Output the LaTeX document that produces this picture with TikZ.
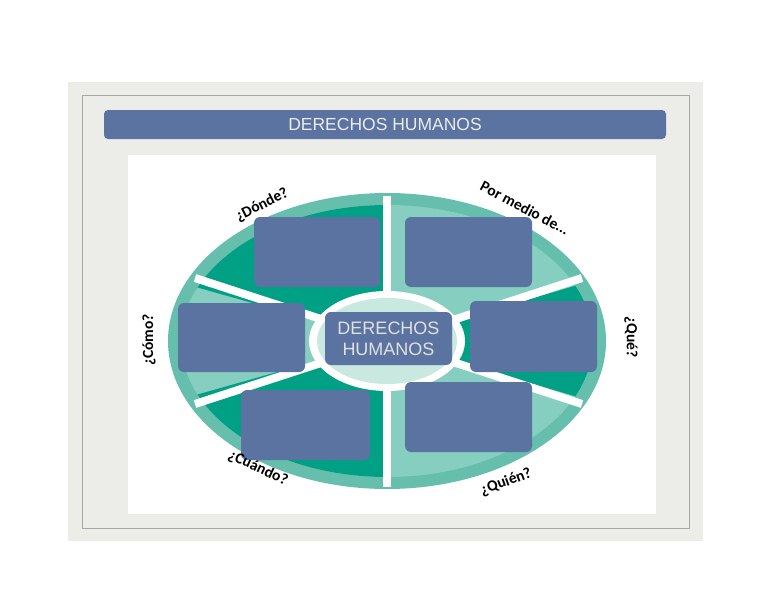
\documentclass[tikz,border=0pt]{standalone}
\usepackage{fontspec}
\setmainfont{Liberation Sans}
\newfontfamily\lab{Carlito}
\definecolor{panel}{HTML}{ECECE9}
\definecolor{bluebox}{HTML}{5B73A0}
\definecolor{ring}{HTML}{66BFAC}
\definecolor{lightsec}{HTML}{86CFC0}
\definecolor{darksec}{HTML}{00A085}
\definecolor{centerfill}{HTML}{C8E8E0}
\begin{document}
\begin{tikzpicture}[x=1pt,y=-1pt,
  box/.style={fill=bluebox,rounded corners=6pt},
  qlab/.style={font=\lab\bfseries\fontsize{15.5}{15.5}\selectfont,inner sep=0pt}]
\useasboundingbox (0,0) rectangle (768,594);
\fill[white] (0,0) rectangle (768,594);
\fill[panel] (68,82) rectangle (703,541);
\draw[gray!70,line width=0.6pt] (82,95) rectangle (689,528);
\fill[bluebox,rounded corners=4pt] (104,110) rectangle (666,139);
\node[text=white!92!black,font=\fontsize{17.5}{17.5}\selectfont] (title) at (385,124.5) {DERECHOS HUMANOS};
\fill[white] (128,155) rectangle (656,514);
\coordinate (c) at (387,341);
\fill[ring] (c) ellipse [x radius=219pt, y radius=148pt];
\begin{scope}
\clip (c) ellipse [x radius=206pt, y radius=136pt];
\fill[lightsec] (c) ellipse [x radius=230pt, y radius=160pt];
\fill[darksec] (c) -- (387,100) -- (100,100) -- (100,260) -- cycle;
\fill[darksec] (c) -- (100,422) -- (100,600) -- (387,600) -- cycle;
\fill[darksec] (c) -- (680,255) -- (680,427) -- cycle;
\end{scope}
\begin{scope}[white,line width=8pt]
\draw (387,196) -- (387,487);
\draw (195,278) -- (582,404);
\draw (195,404) -- (582,278);
\end{scope}
\fill[white] (c) ellipse [x radius=78pt, y radius=50pt];
\fill[centerfill] (c) ellipse [x radius=70pt, y radius=43pt];
\fill[box] (254,217) rectangle (380,287);
\fill[box] (405,217) rectangle (532,287);
\fill[box] (178,303) rectangle (305,372);
\fill[box] (470,301) rectangle (597,372);
\fill[box] (241,390) rectangle (370,460);
\fill[box] (405,382) rectangle (532,452);
\fill[box] (325,312) rectangle (452,365);
\node[text=white!88!black,font=\fontsize{18}{21}\selectfont,align=center] (dh) at (388.5,338.5) {DERECHOS\\HUMANOS};
\node[qlab,rotate=27] (donde) at (262,205) {¿Dónde?};
\node[qlab,rotate=-28] (medio) at (525,208) {Por medio de...};
\node[qlab,rotate=90] (como) at (149,340) {¿Cómo?};
\node[qlab,rotate=-90] (que) at (631,337) {¿Qué?};
\node[qlab,rotate=-25] (cuando) at (258,468) {¿Cuándo?};
\node[qlab,rotate=20] (quien) at (506,482) {¿Quién?};
\end{tikzpicture}
\end{document}
